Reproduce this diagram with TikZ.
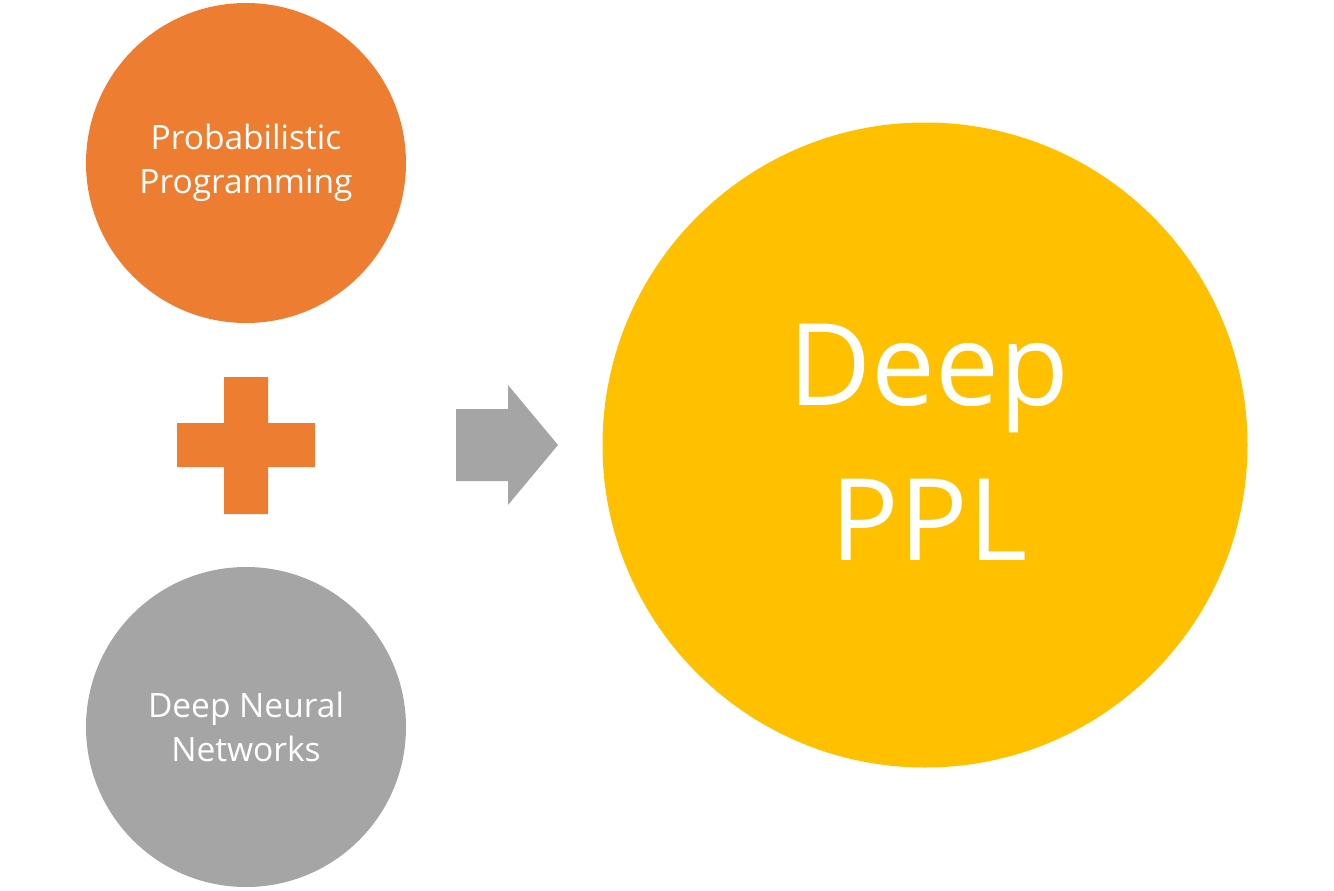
\documentclass[tikz,border=0pt]{standalone}
\usepackage{fontspec}
\setmainfont{Open Sans}
\definecolor{corange}{HTML}{ED7D31}
\definecolor{cgray}{HTML}{A5A5A5}
\definecolor{cyellow}{HTML}{FFC000}
\begin{document}
\begin{tikzpicture}[x=1pt,y=-1pt,
  circ/.style={circle,draw=none,inner sep=0pt},
  lbl/.style={text=white,align=center,inner sep=0pt},
  small/.style={font=\fontsize{33.5}{44}\selectfont},
  big/.style={font=\fontsize{114}{155}\selectfont}]
\useasboundingbox (0,0) rectangle (1334,891);
\node[circ,fill=corange,minimum size=320pt] (pp) at (246,163) {};
\node[lbl,small] (ppt) at (246,163) {Probabilistic\\Programming};
\node[circ,fill=cgray,minimum size=320pt] (dnn) at (246,727) {};
\node[lbl,small] (dnnt) at (246,727) {Deep Neural\\Networks};
\node[circ,fill=cyellow,minimum size=645pt] (dppl) at (925,445) {};
\node[lbl,big] (dpplt) at (929,442) {Deep\\PPL};
\fill[corange] (224,377) -- (268,377) -- (268,423) -- (315,423) -- (315,467) -- (268,467) -- (268,514) -- (224,514) -- (224,467) -- (177,467) -- (177,423) -- (224,423) -- cycle;
\fill[cgray] (456,409) -- (508,409) -- (508,385) -- (558,445) -- (508,505) -- (508,481) -- (456,481) -- cycle;
\end{tikzpicture}
\end{document}
